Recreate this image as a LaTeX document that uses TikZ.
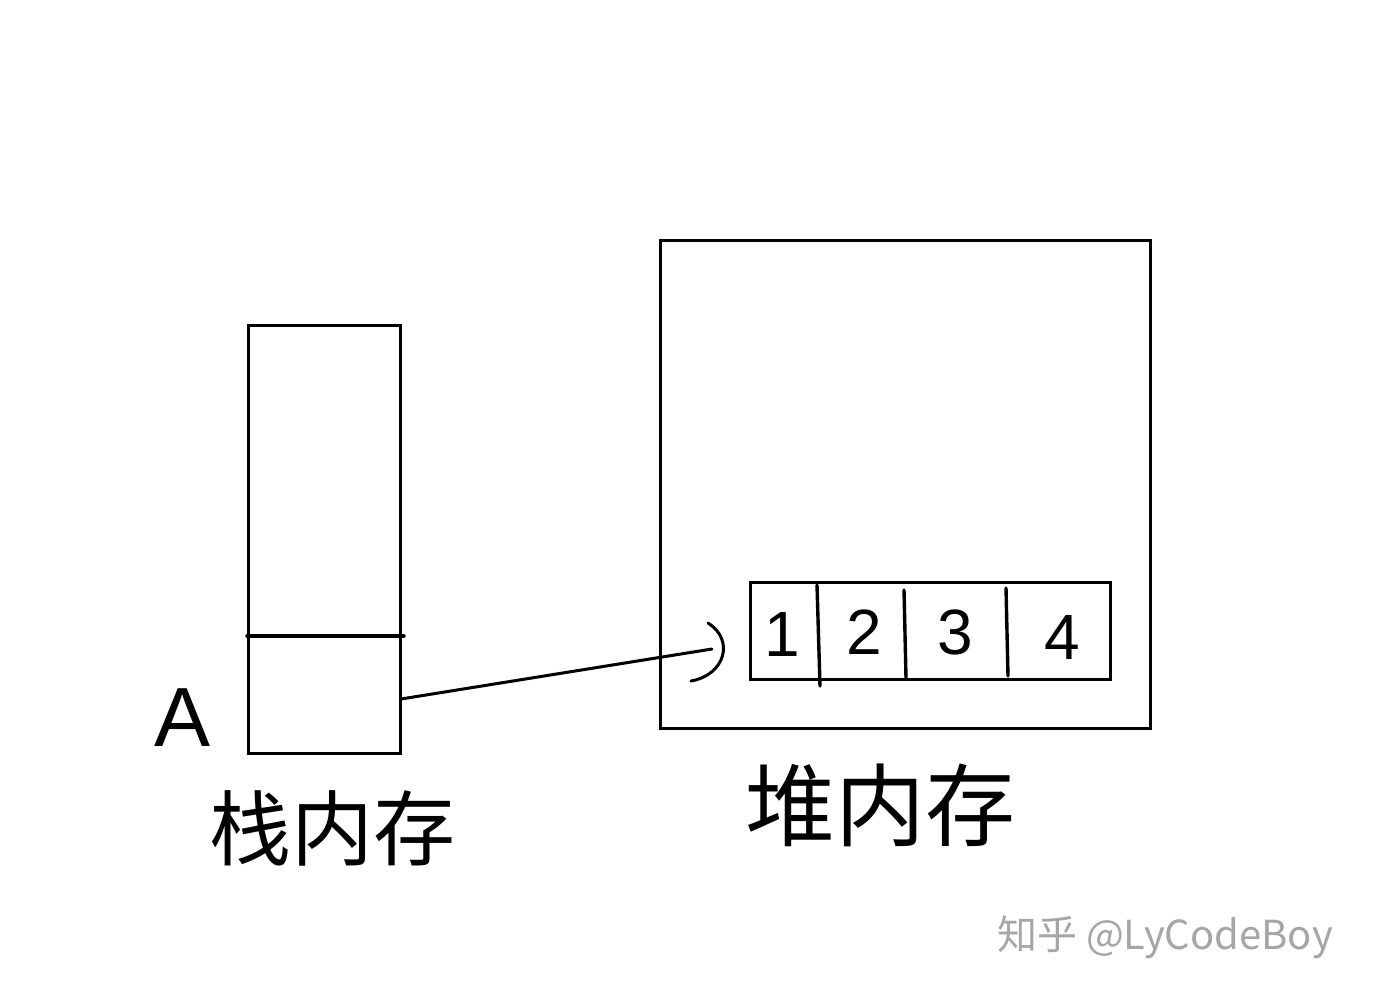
\documentclass[tikz,border=0pt]{standalone}
\usepackage{fontspec}
\setmainfont{Liberation Sans}
\newfontfamily\cjk{Noto Sans CJK SC}
\begin{document}
\begin{tikzpicture}[x=1pt,y=-1pt,
  box/.style={draw=black,line width=3.4pt,rectangle,inner sep=0pt,anchor=north west},
  ln/.style={draw=black,line width=3.4pt,line cap=round},
  digit/.style={font=\fontsize{64}{64}\selectfont,inner sep=0pt},
  cjklabel/.style={font=\cjk\fontsize{82}{82}\selectfont,inner sep=0pt}]
\useasboundingbox[fill=white] (0,0) rectangle (1375,998);
% stack memory
\node[box,minimum width=152pt,minimum height=428pt] (stack) at (247,324) {};
\coordinate (sl) at (247,636);
\coordinate (sr) at (404,636);
\draw[ln] (sl) -- (sr);
% heap memory
\node[box,minimum width=490pt,minimum height=488pt] (heap) at (659,239) {};
% array
\node[box,minimum width=360pt,minimum height=97pt] (arr) at (749,581) {};
\coordinate (d1t) at (817,585); \coordinate (d1b) at (820,686);
\coordinate (d2t) at (904,590); \coordinate (d2b) at (906,678);
\coordinate (d3t) at (1006,588); \coordinate (d3b) at (1008,676);
\draw[ln] (d1t) -- (d1b);
\draw[ln] (d2t) -- (d2b);
\draw[ln] (d3t) -- (d3b);
\node[digit] (n1) at (782,634) {1};
\node[digit] (n2) at (864,632) {2};
\node[digit] (n3) at (955,632) {3};
\node[digit] (n4) at (1062,637) {4};
% pointer
\coordinate (ptr) at (401,699);
\coordinate (tip) at (712,649);
\draw[ln,line width=3pt] (ptr) -- (tip);
\coordinate (ht) at (708,623);
\coordinate (hb) at (691,681);
\draw[ln,line width=3pt] (ht) .. controls (735,640) and (725,675) .. (hb);
% labels
\node[font=\fontsize{84}{84}\selectfont,inner sep=0pt] (A) at (183,718) {A};
\node[cjklabel] (stacklbl) at (332,828) {栈内存};
\node[cjklabel,font=\cjk\fontsize{90}{90}\selectfont] (heaplbl) at (880,805) {堆内存};
% watermark
\node[font=\cjk\fontsize{40}{40}\selectfont,text=black!35,inner sep=0pt] (wm) at (1165,937) {知乎 @LyCodeBoy};
\end{tikzpicture}
\end{document}
